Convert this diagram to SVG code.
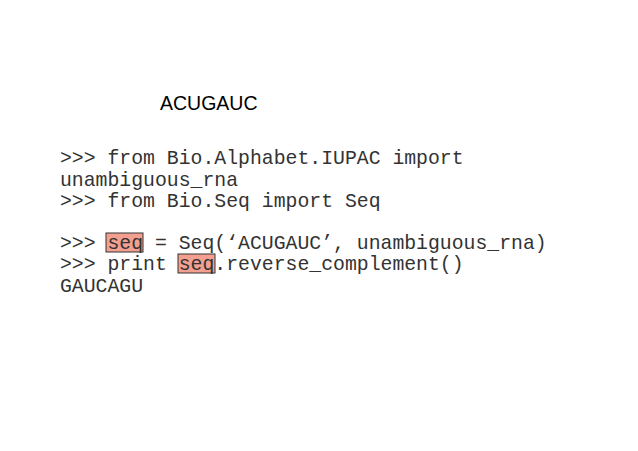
<svg xmlns="http://www.w3.org/2000/svg" width="638" height="451" viewBox="0 0 638 451">
<style>
.m{font-family:"Liberation Mono",monospace;font-size:19.8px;fill:#333}
.h{fill:#f4a090;stroke:#333;stroke-width:1}
</style>
<rect width="638" height="451" fill="#fff"/>
<g id="title"><text x="160" y="110" font-family="Liberation Sans,sans-serif" font-size="19.5" fill="#000">ACUGAUC</text></g>
<g id="highlights">
<rect class="h" x="106" y="233" width="37" height="19"/>
<rect class="h" x="178" y="254" width="37" height="19"/>
</g>
<g id="code">
<text class="m" x="60" y="164">&gt;&gt;&gt; from Bio.Alphabet.IUPAC import</text>
<text class="m" x="60" y="186">unambiguous_rna</text>
<text class="m" x="60" y="207">&gt;&gt;&gt; from Bio.Seq import Seq</text>
<text class="m" x="60" y="249">&gt;&gt;&gt; seq = Seq(‘ACUGAUC’, unambiguous_rna)</text>
<text class="m" x="60" y="270">&gt;&gt;&gt; print seq.reverse_complement()</text>
<text class="m" x="60" y="292">GAUCAGU</text>
</g>
</svg>
